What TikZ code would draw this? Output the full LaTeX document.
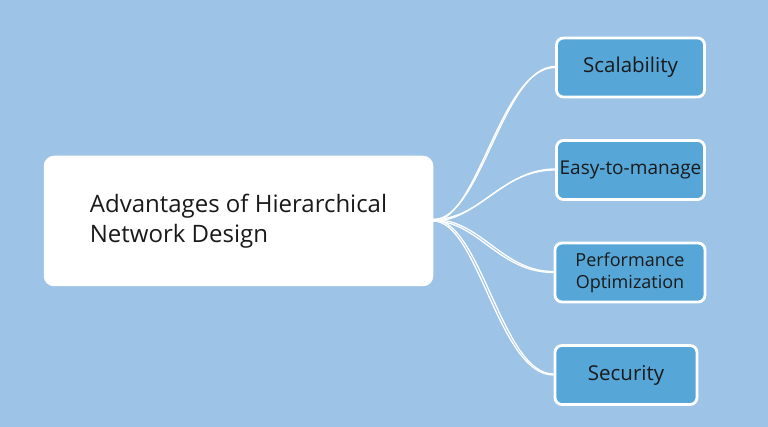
\documentclass[tikz,border=0pt]{standalone}
\usepackage{fontspec}
\setmainfont{Open Sans}
\definecolor{bg}{HTML}{9DC3E6}
\definecolor{boxblue}{HTML}{56A6D8}
\definecolor{txt}{HTML}{1A1A1A}
\tikzset{
  mainbox/.style={draw=white, line width=2.5pt, fill=white, rounded corners=9pt,
    minimum width=387pt, minimum height=128pt, align=left, text=txt,
    font=\fontsize{24}{30}\selectfont, inner sep=0pt},
  leafbox/.style={draw=white, line width=2.8pt, fill=boxblue, rounded corners=7pt,
    minimum height=59pt, align=center, text=txt, inner sep=0pt},
  branch/.style={draw=white, line width=1.3pt},
}
\begin{document}
\begin{tikzpicture}[x=1pt,y=-1pt]
\fill[bg] (0,0) rectangle (768,427);
\useasboundingbox (0,0) rectangle (768,427);
\node[mainbox] (main) at (238.5,221) {Advantages of Hierarchical\\Network Design};
\node[leafbox, minimum width=148pt, font=\fontsize{20.5}{24}\selectfont] (scal) at (630.5,67.5) {Scalability};
\node[leafbox, minimum width=148pt, font=\fontsize{19}{22}\selectfont] (easy) at (630.5,170) {Easy-to-manage};
\node[leafbox, minimum width=150pt, font=\fontsize{18}{22}\selectfont] (perf) at (630,272.5) {Performance\\Optimization};
\node[leafbox, minimum width=142pt, font=\fontsize{20.5}{24}\selectfont] (sec) at (626,375) {Security};
\coordinate (o) at (main.east);
\foreach \t in {scal,easy,perf,sec}{
  \draw[branch] (o) .. controls ([xshift=45pt]o) and ([xshift=-55pt]\t.west) .. (\t.west);
  \draw[branch] ([yshift=1.5pt]o) .. controls ([xshift=48pt,yshift=1.5pt]o) and ([xshift=-52pt,yshift=1pt]\t.west) .. ([yshift=1pt]\t.west);
}
\end{tikzpicture}
\end{document}
